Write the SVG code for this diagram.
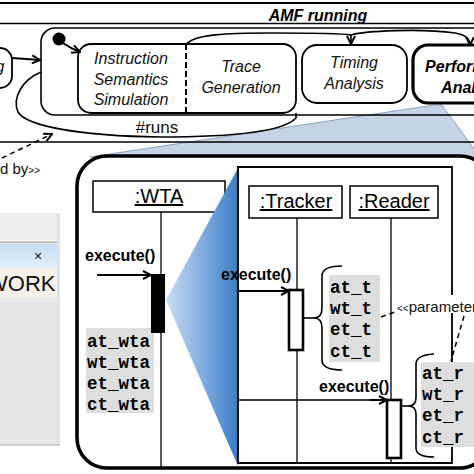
<svg xmlns="http://www.w3.org/2000/svg" width="474" height="474" viewBox="0 0 474 474">
<defs>
<style>
.ln{fill:none;stroke:#000;stroke-width:1.6}
.th{fill:none;stroke:#000;stroke-width:2}
.st{fill:#fff;stroke:#000;stroke-width:1.8}
.it{font-family:"Liberation Sans",Arial,sans-serif;font-style:italic;font-size:16px;text-anchor:middle;fill:#111}
.bi{font-family:"Liberation Sans",Arial,sans-serif;font-style:italic;font-weight:bold;font-size:16px;text-anchor:middle;fill:#000}
.sans{font-family:"Liberation Sans",Arial,sans-serif;fill:#111}
.life{font-family:"Liberation Sans",Arial,sans-serif;font-size:20px;text-anchor:middle;text-decoration:underline;fill:#000}
.ex{font-family:"Liberation Sans",Arial,sans-serif;font-weight:bold;font-size:16px;fill:#000}
.mono{font-family:"Liberation Mono","Courier New",monospace;font-weight:bold;font-size:17.5px;fill:#000}
.gray{fill:#dedede}
.dash{fill:none;stroke:#000;stroke-width:1.5;stroke-dasharray:5 4}
</style>
<marker id="arr" viewBox="0 0 10 10" refX="9" refY="5" markerWidth="10" markerHeight="10" markerUnits="userSpaceOnUse" orient="auto">
<path d="M1,1 L9,5 L1,9" fill="none" stroke="#000" stroke-width="2"/>
</marker>
<linearGradient id="blue" x1="0" y1="0" x2="1" y2="0">
<stop offset="0" stop-color="#c9def6"/>
<stop offset="1" stop-color="#3c7cc6"/>
</linearGradient>
<linearGradient id="title" x1="0" y1="0" x2="0" y2="1">
<stop offset="0" stop-color="#c6ddf4"/>
<stop offset="1" stop-color="#e2eef9"/>
</linearGradient>
</defs>
<rect width="474" height="474" fill="#fff"/>

<!-- zoom lens from Performance Analysis -->
<polygon id="lens-top" points="434,105 442,105 480,157 90,157" fill="#c5d4e4" stroke="#8aa6c4" stroke-width="1"/>

<!-- frame lines -->
<g id="frame-lines">
<line x1="0" y1="3" x2="474" y2="3" stroke="#000" stroke-width="2"/>
<line x1="0" y1="23.5" x2="474" y2="23.5" stroke="#000" stroke-width="1.5"/>
<line x1="0" y1="142" x2="474" y2="142" stroke="#000" stroke-width="1.5"/>
<text x="318" y="21" class="bi" font-size="14">AMF running</text>
</g>

<g id="composite">
<rect x="41" y="28" width="480" height="87" rx="14" class="ln" stroke-width="1.8"/>
</g>

<g id="prev-state">
<rect x="-40" y="48" width="52" height="40" rx="12" class="st"/>
<text x="0" y="72" class="it">g</text>
</g>

<g id="initial">
<circle cx="59" cy="39" r="6.5" fill="#000"/>
</g>

<g id="sim-trace">
<rect x="78" y="44" width="218" height="69" rx="13" class="st"/>
<line x1="186" y1="44" x2="186" y2="113" stroke="#000" stroke-width="2" stroke-dasharray="6 3"/>
<text class="it" x="131" y="64">Instruction</text>
<text class="it" x="131" y="85">Semantics</text>
<text class="it" x="131" y="105">Simulation</text>
<text class="it" x="241" y="72">Trace</text>
<text class="it" x="241" y="93">Generation</text>
</g>

<g id="timing">
<rect x="302" y="45" width="105" height="58" rx="15" class="st"/>
<text class="it" x="354" y="68">Timing</text>
<text class="it" x="354" y="89">Analysis</text>
</g>

<g id="perf">
<rect x="413" y="45" width="122" height="58" rx="15" fill="#fff" stroke="#000" stroke-width="3.2"/>
<text class="bi" x="474" y="72">Performance</text>
<text class="bi" x="474" y="93">Analysis</text>
</g>

<g id="top-connectors">
<path d="M12,58 L40,60" class="th" marker-end="url(#arr)"/>
<path d="M63,43 Q70,48 80,52" class="th" marker-end="url(#arr)"/>
<path d="M186,45 C192,34 230,33 270,33 C310,33 340,33 351,35" class="ln"/>
<path d="M351,35 L351,44" class="ln" marker-end="url(#arr)"/>
<path d="M351,35 C365,31 420,28 455,33 C465,35 470,38 470,45" class="ln" marker-end="url(#arr)"/>
<path d="M296,113 V118 C285,130 240,137 160,137 C80,136 26,126 18,112 C12,98 22,80 41,72" class="ln"/>
<text x="157" y="133" class="sans" font-size="17" text-anchor="middle">#runs</text>
<path d="M2,158 L52,134" class="dash" marker-end="url(#arr)"/>
<text x="0" y="174" class="sans" font-size="15">d by<tspan font-size="10">&gt;&gt;</tspan></text>
</g>

<g id="window">
<rect x="-5" y="213" width="65" height="29" fill="#ededed"/>
<line x1="-5" y1="242.5" x2="60" y2="242.5" stroke="#b4b4b4" stroke-width="1.5"/>
<rect x="-5" y="244" width="65" height="24" fill="url(#title)"/>
<text x="38" y="261" class="sans" font-size="14" text-anchor="middle" fill="#3b5a7e">×</text>
<rect x="-5" y="268" width="65" height="30" fill="#f6f1ea"/>
<text x="-13" y="291" class="sans" font-size="22" fill="#333">WORK</text>
<rect x="-5" y="298" width="65" height="147" fill="#e6e6e6"/>
<rect x="57" y="213" width="3" height="232" fill="#dbe5f1"/>
<line x1="-5" y1="445" x2="60" y2="445" stroke="#c4c4c4" stroke-width="1.5"/>
</g>

<g id="outer-frame">
<rect x="77" y="156" width="413" height="312" rx="30" fill="#fff" stroke="#000" stroke-width="3.6"/>
</g>

<g id="wta">
<rect x="93" y="181" width="132" height="31" fill="#fff" stroke="#000" stroke-width="1.5"/>
<text x="159" y="203" class="life" font-size="19">:WTA</text>
<line x1="161" y1="212" x2="161" y2="468" stroke="#000" stroke-width="1.3"/>
<text x="85" y="261" class="ex">execute()</text>
<rect x="86" y="328" width="68" height="85" class="gray"/>
<text class="mono" x="87" y="347">at_wta</text>
<text class="mono" x="87" y="368">wt_wta</text>
<text class="mono" x="87" y="389">et_wta</text>
<text class="mono" x="87" y="410">ct_wta</text>
</g>

<polygon id="lens-inner" points="166,300 238,168 238,466" fill="url(#blue)"/>

<g id="inner-frame">
<path d="M452,295 V167 H238 V463 H452 V313" fill="none" stroke="#000" stroke-width="1.8"/>
</g>

<g id="tracker">
<rect x="249" y="186" width="93" height="32" fill="#fff" stroke="#000" stroke-width="1.5"/>
<text x="296" y="208" class="life">:Tracker</text>
<line x1="297" y1="218" x2="297" y2="463" stroke="#000" stroke-width="1.3"/>
<text x="221" y="280" class="ex">execute()</text>
<rect x="329" y="275" width="51" height="87" class="gray"/>
<text class="mono" x="330" y="293">at_t</text>
<text class="mono" x="330" y="314">wt_t</text>
<text class="mono" x="330" y="335">et_t</text>
<text class="mono" x="330" y="357">ct_t</text>
</g>

<g id="reader">
<rect x="350" y="186" width="88" height="32" fill="#fff" stroke="#000" stroke-width="1.5"/>
<text x="394" y="208" class="life">:Reader</text>
<line x1="391" y1="218" x2="391" y2="463" stroke="#000" stroke-width="1.3"/>
<text x="319" y="392" class="ex">execute()</text>
<rect x="421" y="362" width="60" height="85" class="gray"/>
<text class="mono" x="422" y="379">at_r</text>
<text class="mono" x="422" y="400">wt_r</text>
<text class="mono" x="422" y="421">et_r</text>
<text class="mono" x="422" y="443">ct_r</text>
</g>

<g id="note">
<text x="397" y="312" class="sans" font-size="15"><tspan font-size="10">&lt;&lt;</tspan>parameters<tspan font-size="10">&gt;&gt;</tspan></text>
</g>

<g id="connectors">
<path d="M97,275 L151,275" class="th" marker-end="url(#arr)"/>
<path d="M238,291 L289,291" class="th" marker-end="url(#arr)"/>
<path d="M238,400 L387,400" class="ln" stroke-width="1.5"/>
<path d="M370,400 L387,400" class="th" marker-end="url(#arr)"/>
<path d="M303,318 H314" class="ln" stroke-width="1.3"/>
<path d="M342,266 Q322,266 322,276 V308 Q322,318 314,318 Q322,318 322,328 V360 Q322,370 342,370" class="ln" stroke-width="1.5"/>
<path d="M401,406 H408" class="ln" stroke-width="1.3"/>
<path d="M434,354 Q416,355 416,364 V398 Q416,406 408,406 Q416,406 416,414 V448 Q416,457 434,457" class="ln" stroke-width="1.5"/>
<path d="M381,317 L395,312" class="dash"/>
<path d="M464,316 L451,361" class="dash"/>
</g>

<g id="activations">
<rect x="151" y="274" width="14" height="59" fill="#000"/>
<rect x="289" y="290" width="14" height="60" fill="#fff" stroke="#000" stroke-width="2.6"/>
<rect x="387" y="400" width="14" height="58" fill="#fff" stroke="#000" stroke-width="2.6"/>
</g>
</svg>
